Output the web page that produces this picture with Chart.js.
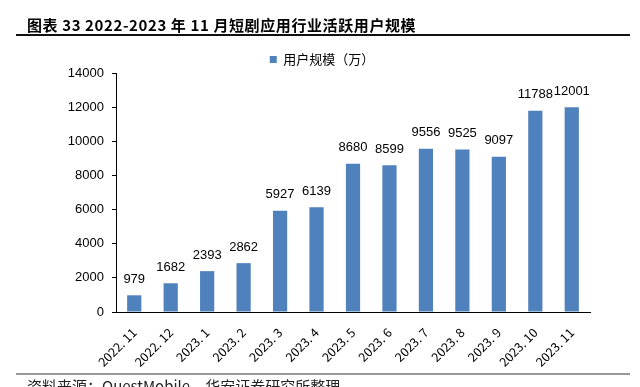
<!DOCTYPE html>
<html>
<head>
<meta charset="utf-8">
<script src="https://cdn.jsdelivr.net/npm/chart.js@4.4.0/dist/chart.umd.min.js"></script>
<style>
  html, body { margin: 0; padding: 0; background: #fff; }
  body { width: 640px; height: 387px; overflow: hidden; position: relative; }
  #title {
    position: absolute; left: 27px; top: 14px; letter-spacing: 0.6px;
    font: bold 15px "Noto Sans CJK SC", sans-serif; color: #000; white-space: nowrap;
  }
  #titleLine { position: absolute; left: 16px; top: 34px; width: 614px; height: 2px; background: #111; }
  #footLine { position: absolute; left: 16px; top: 373px; width: 614px; height: 2px; background: #999; }
  #source {
    position: absolute; left: 27px; top: 375px;
    font: 15px "Noto Sans CJK SC", sans-serif; color: #222; white-space: nowrap;
  }
  #wrap { position: absolute; left: 0; top: 0; width: 640px; height: 387px; }
</style>
</head>
<body>
<div id="wrap"><canvas id="usersChart" width="640" height="387"></canvas></div>
<div id="title">图表 33 2022-2023 年 11 月短剧应用行业活跃用户规模</div>
<div id="titleLine"></div>
<div id="footLine"></div>
<div id="source">资料来源：QuestMobile，华安证券研究所整理</div>
<script>
const months = ['2022. 11', '2022. 12', '2023. 1', '2023. 2', '2023. 3', '2023. 4', '2023. 5',
  '2023. 6', '2023. 7', '2023. 8', '2023. 9', '2023. 10', '2023. 11'];
const users = [979, 1682, 2393, 2862, 5927, 6139, 8680, 8599, 9556, 9525, 9097, 11788, 12001];
const yTicks = [0, 2000, 4000, 6000, 8000, 10000, 12000, 14000];

// values above each bar
const barLabels = {
  id: 'barLabels',
  afterDatasetsDraw(chart) {
    const ctx = chart.ctx;
    const meta = chart.getDatasetMeta(0);
    ctx.save();
    ctx.font = '13px "Liberation Sans", Arial, sans-serif';
    ctx.fillStyle = '#000';
    ctx.textAlign = 'center';
    ctx.textBaseline = 'middle';
    meta.data.forEach((bar, i) => {
      ctx.fillText(String(users[i]), bar.x, bar.y - 16);
    });
    ctx.restore();
  }
};

// legend sits a bit right of the plot centre and a little lower
const legendShift = {
  id: 'legendShift',
  afterLayout(chart) {
    chart.legend.left += 27;
    chart.legend.right += 27;
    chart.legend.top += 3;
    chart.legend.bottom += 3;
  }
};

const ctx = document.getElementById('usersChart');

new Chart(ctx, {
  type: 'bar',
  data: {
    labels: months,
    datasets: [{
      label: '用户规模（万）',
      data: users,
      backgroundColor: '#4F81BD',
      borderWidth: 0,
      categoryPercentage: 1,
      barPercentage: 0.39
    }]
  },
  options: {
    responsive: false,
    animation: false,
    devicePixelRatio: 1,
    layout: { padding: { left: 0, right: 50, top: 42, bottom: 0 } },
    plugins: {
      legend: {
        labels: {
          boxWidth: 7,
          boxHeight: 7,
          padding: 8,
          color: '#000',
          font: { family: '"Noto Sans CJK SC"', size: 13 }
        }
      },
      tooltip: { enabled: false }
    },
    scales: {
      x: {
        grid: { display: false },
        border: { display: true, color: '#000', width: 1 },
        ticks: {
          color: '#000',
          autoSkip: false,
          minRotation: 45,
          maxRotation: 45,
          padding: 5,
          font: { family: '"Noto Sans CJK SC"', size: 12.5 }
        },
        afterFit(s) { s.height = 75; }
      },
      y: {
        min: 0,
        max: 14000,
        afterBuildTicks(s) { s.ticks = yTicks.map(v => ({ value: v })); },
        grid: { drawOnChartArea: false, tickLength: 4, color: '#000' },
        border: { display: true, color: '#000', width: 1 },
        ticks: {
          color: '#000',
          padding: 8,
          font: { family: '"Liberation Sans", Arial, sans-serif', size: 13 },
          callback: v => String(v)
        },
        afterFit(s) { s.width = 116; }
      }
    }
  },
  plugins: [barLabels, legendShift]
});
</script>
</body>
</html>
